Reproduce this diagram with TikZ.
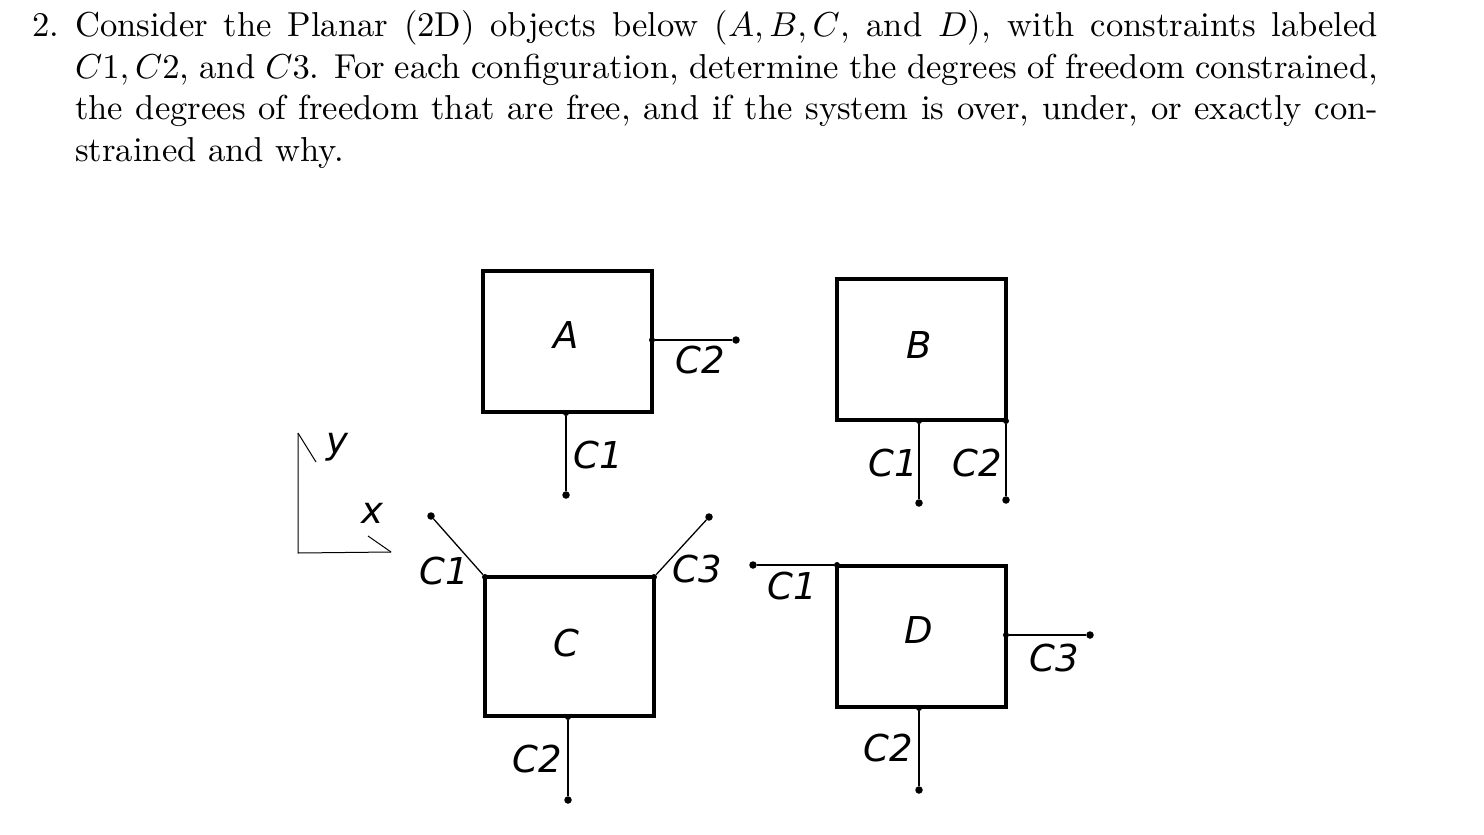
\documentclass[tikz,border=0pt]{standalone}
\usepackage{fontspec}
\newfontfamily\lab{DejaVu Sans}
\begin{document}
\begin{tikzpicture}[x=1pt,y=-1pt,
 box/.style={draw,line width=3.5pt},
 ln/.style={line width=1.3pt},
 dot/.style={circle,fill,inner sep=0pt,minimum size=7.5pt},
 jd/.style={circle,fill,inner sep=0pt,minimum size=6pt},
 lb/.style={font=\lab\itshape\fontsize{37}{37}\selectfont,inner sep=0pt}]
\useasboundingbox (0,0) rectangle (1484,835);
\node[anchor=north west,inner sep=0pt] (txt) at (75,10)
 {\scalebox{3.46}{\parbox[t]{376.6pt}{\fontsize{10}{12.1}\selectfont\hspace*{-12.4pt}2.\ Consider the Planar (2D) objects below ($A,B,C$, and $D$), with constraints labeled $C1,C2$, and $C3$. For each configuration, determine the degrees of freedom constrained, the degrees of freedom that are free, and if the system is over, under, or exactly con\-strained and why.}}};
% axes
\coordinate (o) at (298,553); \coordinate (yt) at (298,433); \coordinate (xt) at (391,552);
\draw[line width=1pt] (yt)--(o)--(xt);
\draw[line width=1pt] (yt)--(316,462);
\draw[line width=1pt] (xt)--(368,536);
\node[lb] (ly) at (337,447) {y};
\node[lb] (lx) at (372,513) {x};
% A
\draw[box] (483,271) rectangle (652,412);
\node[lb] (a) at (566,335) {A};
\node[jd] (a1) at (566,413) {}; \node[dot] (a1e) at (566,495) {};
\draw[ln] (a1)--(a1e);
\node[jd] (a2) at (652,340) {}; \node[dot] (a2e) at (736,340) {};
\draw[ln] (a2)--(a2e);
\node[lb] at (598,455) {C1};
\node[lb] at (700,360) {C2};
% B
\draw[box] (837,279) rectangle (1006,420);
\node[lb] (b) at (919,345) {B};
\node[jd] (b1) at (919,421) {}; \node[dot] (b1e) at (919,503) {};
\node[jd] (b2) at (1006,421) {}; \node[dot] (b2e) at (1006,500) {};
\draw[ln] (b1)--(b1e); \draw[ln] (b2)--(b2e);
\node[lb] at (893,463) {C1};
\node[lb] at (977,463) {C2};
% C
\draw[box] (485,577) rectangle (654,716);
\node[lb] (c) at (566,643) {C};
\node[jd] (c1) at (485,577) {}; \node[dot] (c1e) at (431,516) {};
\node[jd] (c3) at (654,577) {}; \node[dot] (c3e) at (709,517) {};
\node[jd] (c2) at (568,717) {}; \node[dot] (c2e) at (568,800) {};
\draw[ln] (c1)--(c1e); \draw[ln] (c3)--(c3e); \draw[ln] (c2)--(c2e);
\node[lb] at (444,571) {C1};
\node[lb] at (697,569) {C3};
\node[lb] at (537,759) {C2};
% D
\draw[box] (837,566) rectangle (1006,707);
\node[lb] (d) at (919,630) {D};
\node[jd] (d1) at (837,565) {}; \node[dot] (d1e) at (753,565) {};
\node[jd] (d3) at (1006,635) {}; \node[dot] (d3e) at (1090,635) {};
\node[jd] (d2) at (919,708) {}; \node[dot] (d2e) at (919,790) {};
\draw[ln] (d1)--(d1e); \draw[ln] (d3)--(d3e); \draw[ln] (d2)--(d2e);
\node[lb] at (792,586) {C1};
\node[lb] at (1054,658) {C3};
\node[lb] at (888,748) {C2};
\end{tikzpicture}
\end{document}
